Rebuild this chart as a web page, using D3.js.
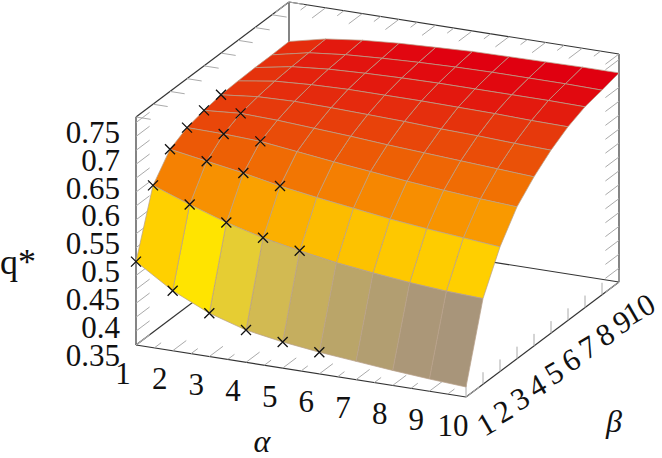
<!DOCTYPE html>
<html>
<head>
<meta charset="utf-8">
<script src="https://cdn.jsdelivr.net/npm/d3@7"></script>
<style>
  body { margin: 0; background: #fff; }
  text { font-family: "Liberation Serif", "DejaVu Serif", serif; fill: #111; }
</style>
</head>
<body>
<svg id="chart" width="662" height="458"></svg>
<script>
// axis values
const alphas = [1, 2, 3, 4, 5, 6, 7, 8, 9, 10];
const betas = [1, 2, 3, 4, 5, 6, 7, 8, 9, 10];
const zTicks = [0.35, 0.4, 0.45, 0.5, 0.55, 0.6, 0.65, 0.7, 0.75];

// q*, one row per beta (alpha 1..10)
const qBeta1  = [0.500, 0.458, 0.428, 0.408, 0.397, 0.389, 0.383, 0.377, 0.372, 0.368];
const qBeta2  = [0.614, 0.590, 0.568, 0.551, 0.538, 0.527, 0.519, 0.512, 0.507, 0.504];
const qBeta3  = [0.656, 0.645, 0.634, 0.621, 0.611, 0.602, 0.593, 0.586, 0.580, 0.574];
const qBeta4  = [0.672, 0.671, 0.668, 0.660, 0.652, 0.645, 0.638, 0.632, 0.627, 0.623];
const qBeta5  = [0.680, 0.685, 0.683, 0.679, 0.675, 0.670, 0.666, 0.662, 0.658, 0.654];
const qBeta6  = [0.685, 0.692, 0.694, 0.693, 0.691, 0.689, 0.686, 0.684, 0.681, 0.679];
const qBeta7  = [0.687, 0.697, 0.701, 0.703, 0.703, 0.703, 0.702, 0.701, 0.699, 0.698];
const qBeta8  = [0.688, 0.700, 0.706, 0.709, 0.711, 0.712, 0.712, 0.712, 0.712, 0.711];
const qBeta9  = [0.688, 0.702, 0.709, 0.713, 0.716, 0.718, 0.719, 0.719, 0.719, 0.718];
const qBeta10 = [0.689, 0.704, 0.712, 0.717, 0.720, 0.723, 0.724, 0.725, 0.726, 0.726];
const qRows = [qBeta1, qBeta2, qBeta3, qBeta4, qBeta5, qBeta6, qBeta7, qBeta8, qBeta9, qBeta10];

// marked points: alpha + beta <= 7
const markAlpha = [1, 2, 3, 4, 5, 6, 1, 2, 3, 4, 5, 1, 2, 3, 4, 1, 2, 3, 1, 2, 1];
const markBeta  = [1, 1, 1, 1, 1, 1, 2, 2, 2, 2, 2, 3, 3, 3, 3, 4, 4, 4, 5, 5, 6];

const svg = d3.select("#chart");

// oblique projection: each axis contributes a screen offset
const ORIGIN_X = 136, ORIGIN_Y = 345;
const ax = d3.scaleLinear().domain([1, 10]).range([0, 330]);
const ay = d3.scaleLinear().domain([1, 10]).range([0, 52]);
const bx = d3.scaleLinear().domain([1, 10]).range([0, 153]);
const by = d3.scaleLinear().domain([1, 10]).range([0, -115]);
const zy = d3.scaleLinear().domain([0.35, 0.76]).range([0, -228]);
const Z0 = 0.35, Z1 = 0.76;

const P = (a, b, z) => [ORIGIN_X + ax(a) + bx(b), ORIGIN_Y + ay(a) + by(b) + zy(z)];

const color = d3.scaleLinear()
  .domain([0.44, 0.475, 0.49, 0.505, 0.54, 0.57, 0.6, 0.63, 0.66, 0.69, 0.72])
  .range(["#a8957a", "#d4bc50", "#e8cf30", "#ffe800", "#ffd000", "#fcbc00",
          "#f99a00", "#f47d02", "#ec5a06", "#e6380c", "#e00010"])
  .clamp(true);

// box edges (hidden ones first, surface paints over them)
const edge = (p, q) => svg.append("line")
  .attr("x1", p[0]).attr("y1", p[1]).attr("x2", q[0]).attr("y2", q[1])
  .attr("stroke", "#333").attr("stroke-width", 1.2);
const FBL = P(1, 1, Z0), FTL = P(1, 1, Z1), BTL = P(1, 10, Z1), BTR = P(10, 10, Z1),
  BBR = P(10, 10, Z0), FBR = P(10, 1, Z0), BBL = P(1, 10, Z0);
[[FBL, FTL], [FTL, BTL], [BTL, BTR], [BTR, BBR], [BBR, FBR], [FBR, FBL], [BBR, BBL], [BBL, FBL], [BBL, BTL]]
  .forEach(([p, q]) => edge(p, q));

// tick marks
const tick = (p, dx, dy) => svg.append("line")
  .attr("x1", p[0]).attr("y1", p[1]).attr("x2", p[0] + dx).attr("y2", p[1] + dy)
  .attr("stroke", "#aaa").attr("stroke-width", 1);
const tb = [bx(1.8) - bx(1), by(1.8) - by(1)];
const ta = [ax(1.4) - ax(1), ay(1.4) - ay(1)];
for (let v = 0.35; v <= 0.7601; v += 0.025) {
  tick(P(1, 1, v), tb[0], tb[1]);
  tick(P(10, 10, v), -tb[0], -tb[1]);
}
alphas.forEach(a => {
  tick(P(a, 1, Z0), tb[0], tb[1]);
  tick(P(a, 10, Z1), -tb[0], -tb[1]);
  if (a < 10) { tick(P(a + 0.5, 1, Z0), tb[0] / 2, tb[1] / 2); tick(P(a + 0.5, 10, Z1), -tb[0] / 2, -tb[1] / 2); }
});
betas.forEach(b => {
  tick(P(1, b, Z1), ta[0], ta[1]);
  tick(P(10, b, Z0), 0, -12);
});

// surface quads, back to front
const quads = [];
for (let bi = betas.length - 2; bi >= 0; bi--) {
  for (let ai = alphas.length - 2; ai >= 0; ai--) {
    const c = [[ai, bi], [ai + 1, bi], [ai + 1, bi + 1], [ai, bi + 1]];
    const pts = c.map(([i, j]) => P(alphas[i], betas[j], qRows[j][i]));
    const zAvg = d3.mean(c, ([i, j]) => qRows[j][i]);
    quads.push({ pts, zAvg });
  }
}
svg.append("g").selectAll("path").data(quads).join("path")
  .attr("d", d => "M" + d.pts.map(p => p.join(",")).join("L") + "Z")
  .attr("fill", d => color(d.zAvg))
  .attr("stroke", "#b8a08a").attr("stroke-width", 0.9).attr("stroke-opacity", 0.8);

// markers
markAlpha.forEach((a, k) => {
  const b = markBeta[k];
  const [x, y] = P(a, b, qRows[b - 1][a - 1]);
  const s = 5;
  svg.append("path").attr("d", `M${x - s},${y - s}L${x + s},${y + s}M${x - s},${y + s}L${x + s},${y - s}`)
    .attr("stroke", "#111").attr("stroke-width", 1.3);
});

// tick labels
zTicks.forEach(v => {
  svg.append("text").text(String(v))
    .attr("x", 120).attr("y", P(1, 1, v)[1] + 10)
    .attr("text-anchor", "end").attr("dominant-baseline", "central")
    .attr("font-size", 31);
});
alphas.forEach(a => {
  const [x, y] = P(a, 1, Z0);
  svg.append("text").text(a).attr("x", x - 13).attr("y", y + 28)
    .attr("text-anchor", "middle").attr("dominant-baseline", "central").attr("font-size", 31);
});
betas.forEach(b => {
  const [x, y] = P(10, b, Z0);
  svg.append("text").text(b).attr("transform", `translate(${x + 20},${y + 27}) rotate(-30)`)
    .attr("text-anchor", "middle").attr("dominant-baseline", "central").attr("font-size", 31);
});

// axis titles
svg.append("text").text("q*").attr("x", 0).attr("y", 274).attr("font-size", 36);
svg.append("text").text("α").attr("x", 262).attr("y", 441).attr("text-anchor", "middle")
  .attr("dominant-baseline", "central").attr("font-size", 32).attr("font-style", "italic");
svg.append("text").text("β").attr("x", 614).attr("y", 421).attr("text-anchor", "middle")
  .attr("dominant-baseline", "central").attr("font-size", 32).attr("font-style", "italic");
</script>
</body>
</html>
